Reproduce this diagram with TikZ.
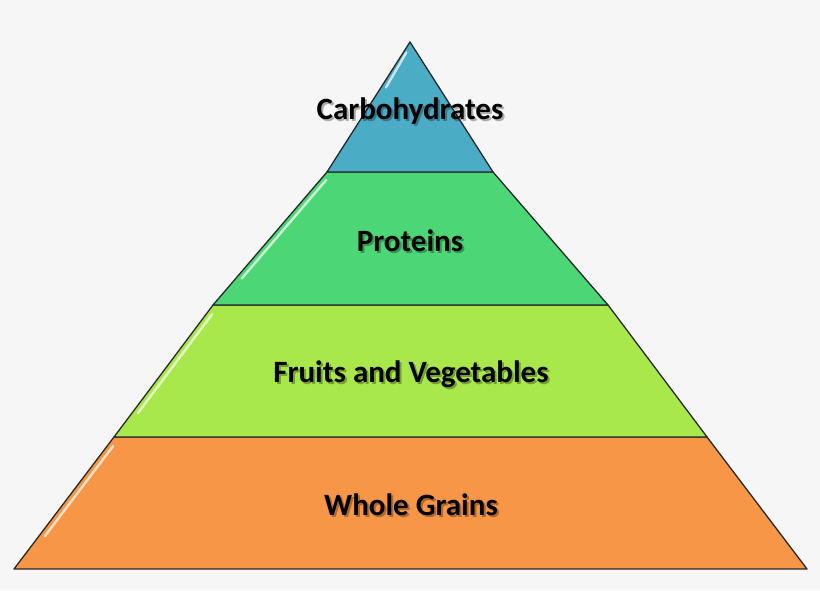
\documentclass[tikz,border=0pt]{standalone}
\usepackage{fontspec}
\setmainfont{Carlito}
\usepackage{tikz}
\usetikzlibrary{calc}

\definecolor{tierblue}{RGB}{75,172,198}
\definecolor{tiergreen}{RGB}{76,214,118}
\definecolor{tierlime}{RGB}{168,232,74}
\definecolor{tierorange}{RGB}{246,150,70}

\tikzset{
  tier/.style={draw={rgb, 255:red, 40; green, 40; blue, 40}, line width=1.3pt, line join=round},
  gloss/.style={draw=white, draw opacity=0.7, line width=2.4pt, line cap=round},
  tierlabel/.style={inner sep=0.75pt, font=\bfseries\fontsize{31}{36}\selectfont},
  tiershade/.style={tierlabel, text=black, text opacity=0.3}
}

\begin{document}
\begin{tikzpicture}[x=1pt,y=1pt,yscale=-1,xscale=1]
\useasboundingbox (0,0) rectangle (820,590);
\fill [color={rgb, 255:red, 246; green, 246; blue, 246}] (0,0) rectangle (820,590);

%Corners of the pyramid
\coordinate (apex) at (410,42);
\coordinate (l1) at (327,172);
\coordinate (r1) at (493,172);
\coordinate (l2) at (213,305);
\coordinate (r2) at (608,305);
\coordinate (l3) at (114,437);
\coordinate (r3) at (707,437);
\coordinate (l4) at (14,569);
\coordinate (r4) at (807,569);

%Shape: Bottom tier
\draw [tier, fill=tierorange] (l3) -- (r3) -- (r4) -- (l4) -- cycle ;
%Shape: Third tier
\draw [tier, fill=tierlime] (l2) -- (r2) -- (r3) -- (l3) -- cycle ;
%Shape: Second tier
\draw [tier, fill=tiergreen] (l1) -- (r1) -- (r2) -- (l2) -- cycle ;
%Shape: Top tier
\draw [tier, fill=tierblue] (apex) -- (r1) -- (l1) -- cycle ;

%Highlights along the left edges
\draw [gloss] ($(apex)!0.08!(l1)+(3,0)$) -- ($(apex)!0.35!(l1)+(5,0)$) ;
\draw [gloss] ($(l1)!0.06!(l2)+(6,0)$) -- ($(l1)!0.8!(l2)+(6,0)$) ;
\draw [gloss] ($(l2)!0.07!(l3)+(6,0)$) -- ($(l2)!0.82!(l3)+(6,0)$) ;
\draw [gloss] ($(l3)!0.07!(l4)+(6,0)$) -- ($(l3)!0.75!(l4)+(6,0)$) ;

% Text Node
\node [tiershade] at (412,113) {Carbohydrates};
\node [tierlabel] (carbs) at (410,111) {Carbohydrates};
% Text Node
\node [tiershade] at (412,243) {Proteins};
\node [tierlabel] (protein) at (410,241) {Proteins};
% Text Node
\node [tiershade] at (413,376) {Fruits and Vegetables};
\node [tierlabel] (fruitveg) at (411,374) {Fruits and Vegetables};
% Text Node
\node [tiershade] at (413,507) {Whole Grains};
\node [tierlabel] (grains) at (411,505) {Whole Grains};

\end{tikzpicture}
\end{document}
